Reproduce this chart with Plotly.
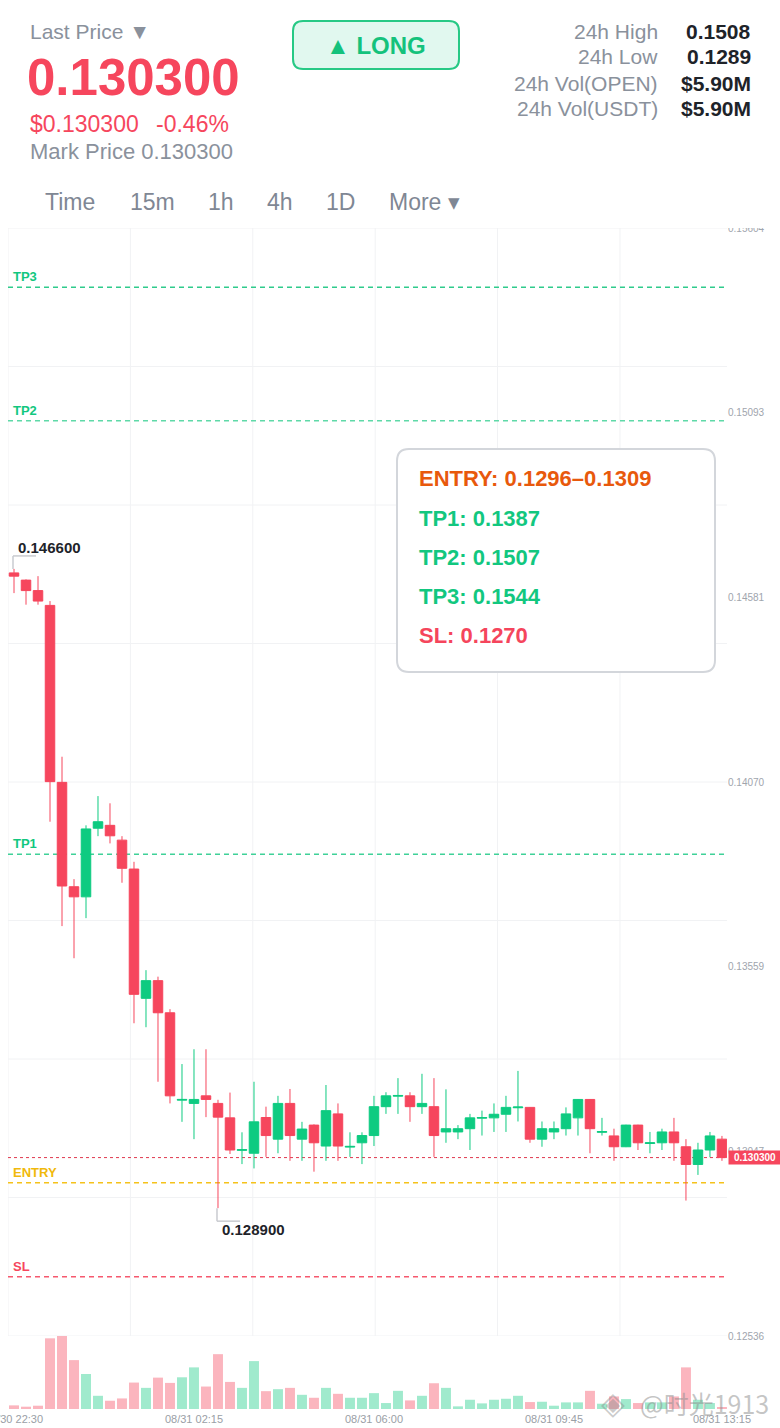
import pandas as pd
import plotly.graph_objects as go

OFF = 0
W, H = 780, 1428
FONT = "Liberation Sans, Arial, sans-serif"

# 15m candles, 08/30 22:30 -> 08/31 13:15
START = "2025-08-30 22:30"
N_CANDLES = 60

OPEN = [0.14649, 0.14629, 0.14600, 0.14559, 0.14069, 0.13780, 0.13752, 0.13942, 0.13950, 0.13909,
        0.13829, 0.13471, 0.13520, 0.13431, 0.13189, 0.13180, 0.13201, 0.13180, 0.13140, 0.13050,
        0.13042, 0.13141, 0.13081, 0.13180, 0.13081, 0.13120, 0.13062, 0.13151, 0.13059, 0.13071,
        0.13091, 0.13171, 0.13200, 0.13201, 0.13171, 0.13171, 0.13101, 0.13101, 0.13110, 0.13139,
        0.13140, 0.13150, 0.13168, 0.13169, 0.13081, 0.13101, 0.13110, 0.13140, 0.13191, 0.13100,
        0.13090, 0.13060, 0.13120, 0.13069, 0.13071, 0.13101, 0.13060, 0.13011, 0.13051, 0.13081]
HIGH = [0.14660, 0.14631, 0.14640, 0.14571, 0.14140, 0.13801, 0.13950, 0.14031, 0.14011, 0.13920,
        0.13849, 0.13549, 0.13531, 0.13441, 0.13289, 0.13330, 0.13330, 0.13190, 0.13210, 0.13100,
        0.13240, 0.13171, 0.13201, 0.13220, 0.13129, 0.13122, 0.13231, 0.13180, 0.13100, 0.13100,
        0.13201, 0.13211, 0.13250, 0.13211, 0.13262, 0.13250, 0.13219, 0.13120, 0.13151, 0.13160,
        0.13180, 0.13201, 0.13270, 0.13170, 0.13130, 0.13130, 0.13169, 0.13192, 0.13192, 0.13140,
        0.13110, 0.13121, 0.13121, 0.13101, 0.13110, 0.13140, 0.13081, 0.13071, 0.13101, 0.13090]
LOW = [0.14593, 0.14561, 0.14561, 0.13960, 0.13671, 0.13582, 0.13693, 0.13920, 0.13900, 0.13791,
       0.13402, 0.13391, 0.13240, 0.13180, 0.13129, 0.13081, 0.13142, 0.12890, 0.13040, 0.13012,
       0.13000, 0.13032, 0.13042, 0.13021, 0.13021, 0.12991, 0.13021, 0.13021, 0.13032, 0.13012,
       0.13062, 0.13151, 0.13151, 0.13129, 0.13151, 0.13032, 0.13071, 0.13081, 0.13051, 0.13091,
       0.13101, 0.13101, 0.13130, 0.13071, 0.13060, 0.13081, 0.13091, 0.13091, 0.13042, 0.13091,
       0.13021, 0.13059, 0.13051, 0.13042, 0.13051, 0.13021, 0.12911, 0.12982, 0.13031, 0.13021]
CLOSE = [0.14640, 0.14600, 0.14571, 0.14071, 0.13782, 0.13752, 0.13940, 0.13960, 0.13921, 0.13831,
         0.13482, 0.13520, 0.13431, 0.13201, 0.13191, 0.13191, 0.13191, 0.13142, 0.13051, 0.13052,
         0.13129, 0.13091, 0.13180, 0.13091, 0.13109, 0.13071, 0.13160, 0.13062, 0.13061, 0.13091,
         0.13171, 0.13201, 0.13202, 0.13171, 0.13180, 0.13091, 0.13110, 0.13110, 0.13140, 0.13141,
         0.13150, 0.13169, 0.13170, 0.13081, 0.13110, 0.13110, 0.13151, 0.13191, 0.13110, 0.13102,
         0.13060, 0.13120, 0.13071, 0.13071, 0.13101, 0.13071, 0.13011, 0.13051, 0.13090, 0.13030]
VOLUME_K = [11, 7, 10, 214, 221, 148, 106, 40, 25, 32, 80, 64, 95, 79, 96, 126, 68, 166, 82, 64,
            145, 54, 60, 64, 43, 34, 64, 46, 34, 34, 48, 18, 55, 26, 40, 78, 64, 8, 28, 17,
            28, 31, 40, 21, 22, 10, 20, 20, 55, 16, 38, 30, 18, 20, 20, 38, 126, 28, 18, 6]

TIME_TICKS = ["2025-08-30 22:30", "2025-08-31 02:15", "2025-08-31 06:00",
              "2025-08-31 09:45", "2025-08-31 13:15"]
PRICE_TICKS = [0.12536, 0.13047, 0.13559, 0.14070, 0.14581, 0.15093, 0.15604]

LEVELS = [("TP3", 0.1544), ("TP2", 0.1507), ("TP1", 0.1387), ("ENTRY", 0.1296), ("SL", 0.1270)]
LAST_PRICE = 0.1303
HIGH_MARK = (0, 0.1466)
LOW_MARK = (17, 0.1289)

STATS = [("24h High", "0.1508"), ("24h Low", "0.1289"),
         ("24h Vol(OPEN)", "$5.90M"), ("24h Vol(USDT)", "$5.90M")]
TABS = ["Time", "15m", "1h", "4h", "1D", "More ▾"]
PLAN = [("ENTRY: 0.1296–0.1309", "#e8590c"), ("TP1: 0.1387", "#12c77f"),
        ("TP2: 0.1507", "#12c77f"), ("TP3: 0.1544", "#12c77f"), ("SL: 0.1270", "#f5455c")]

UP, DOWN = "#0ecb81", "#f6465d"
UP_VOL, DOWN_VOL = "#a0eacd", "#fbb5be"
LEVEL_COLORS = {"TP3": "#2fcb8c", "TP2": "#5fd9a8", "TP1": "#3fd198", "ENTRY": "#f5c21b", "SL": "#f6596e"}
LABEL_COLORS = {"TP3": "#12c77f", "TP2": "#12c77f", "TP1": "#12c77f", "ENTRY": "#f0b90b", "SL": "#f6465d"}
GRID = "#f1f2f4"

times = pd.date_range(START, periods=N_CANDLES, freq="15min")
step = pd.Timedelta(minutes=15)
x_left = times[0] - step * 0.5
x_right = times[-1] + step * 0.42
lo, hi = PRICE_TICKS[0], PRICE_TICKS[-1]


def px(x):
    # window pixel -> paper fraction
    return (x - OFF) / W


def py(y):
    return 1 - (y - OFF) / H


def rounded_box(x0, y0, x1, y1, r):
    rx, ry = r / W, r / H
    X0, X1, Y0, Y1 = px(x0), px(x1), py(y0), py(y1)
    return (f"M{X0 + rx},{Y0} L{X1 - rx},{Y0} Q{X1},{Y0} {X1},{Y0 - ry} "
            f"L{X1},{Y1 + ry} Q{X1},{Y1} {X1 - rx},{Y1} L{X0 + rx},{Y1} "
            f"Q{X0},{Y1} {X0},{Y1 + ry} L{X0},{Y0 - ry} Q{X0},{Y0} {X0 + rx},{Y0} Z")


def text(x, y, s, size, color, anchor="left", bold=False, family=FONT):
    return dict(x=px(x), y=py(y), xref="paper", yref="paper", xanchor=anchor, yanchor="middle",
                text=f"<b>{s}</b>" if bold else s, showarrow=False,
                font=dict(size=size, color=color, family=family))


fig = go.Figure()
fig.add_trace(go.Candlestick(
    x=times, open=OPEN, high=HIGH, low=LOW, close=CLOSE, whiskerwidth=0,
    increasing=dict(line=dict(color=UP, width=1), fillcolor=UP),
    decreasing=dict(line=dict(color=DOWN, width=1), fillcolor=DOWN),
    hoverinfo="skip", showlegend=False))
fig.add_trace(go.Bar(
    x=times, y=VOLUME_K, xaxis="x2", yaxis="y2", hoverinfo="skip", showlegend=False,
    marker=dict(color=[UP_VOL if c >= o else DOWN_VOL for o, c in zip(OPEN, CLOSE)], line_width=0)))

shapes = []
# grid
for k in range(9):
    lv = lo + (hi - lo) * k / 8
    shapes.append(dict(type="line", xref="x domain", yref="y", x0=0, x1=1, y0=lv, y1=lv,
                       line=dict(color=GRID, width=1), layer="below"))
for k in range(6):
    gx = x_left + pd.Timedelta(minutes=153) * k
    shapes.append(dict(type="line", xref="x", yref="y domain", x0=gx, x1=gx, y0=0, y1=1,
                       line=dict(color=GRID, width=1), layer="below"))
# trade levels
for name, lv in LEVELS:
    shapes.append(dict(type="line", xref="x domain", yref="y", x0=0, x1=1, y0=lv, y1=lv,
                       line=dict(color=LEVEL_COLORS[name], width=1.5, dash="5px,4px"), layer="below"))
shapes.append(dict(type="line", xref="x domain", yref="y", x0=0, x1=1, y0=LAST_PRICE, y1=LAST_PRICE,
                   line=dict(color="#e0394f", width=1, dash="3px,3px"), layer="below"))
# leader brackets for high / low marks
for (idx, val), sign in ((HIGH_MARK, 1), (LOW_MARK, -1)):
    t = times[idx]
    shapes.append(dict(type="line", xref="x", yref="y", xsizemode="pixel", ysizemode="pixel",
                       xanchor=t, yanchor=val, x0=-1, x1=-1, y0=0, y1=13 * sign,
                       line=dict(color="#c9cbd0", width=1.5)))
    shapes.append(dict(type="line", xref="x", yref="y", xsizemode="pixel", ysizemode="pixel",
                       xanchor=t, yanchor=val, x0=-1, x1=22, y0=13 * sign, y1=13 * sign,
                       line=dict(color="#c9cbd0", width=1.5)))
# mask above plot for clipped top tick
shapes.append(dict(type="rect", xref="paper", yref="paper", x0=px(728), x1=1, y0=py(228), y1=py(205),
                   fillcolor="white", line_width=0, layer="above"))
# LONG button and plan box
shapes.append(dict(type="path", xref="paper", yref="paper", path=rounded_box(293, 21, 459, 69, 10),
                   fillcolor="#e1f8ef", line=dict(color="#27c985", width=2), layer="above"))
shapes.append(dict(type="path", xref="paper", yref="paper", path=rounded_box(397, 449, 715, 672, 12),
                   fillcolor="white", line=dict(color="#d3d6db", width=2), layer="above"))

ann = []
ann.append(text(28, 31, "Last Price ▼", 21, "#8a919c"))
ann.append(text(25, 77, "0.130300", 51, DOWN, bold=True))
ann.append(text(28, 124, "$0.130300", 23, DOWN))
ann.append(text(154, 124, "-0.46%", 23, DOWN))
ann.append(text(28, 152, "Mark Price 0.130300", 22, "#8a919c"))
ann.append(text(376, 45, "▲ LONG", 24, "#14c27c", anchor="center", bold=True))
for i, (lab, val) in enumerate(STATS):
    ann.append(text(660, 31 + 26 * i, lab, 21, "#8a919c", anchor="right"))
    ann.append(text(753, 31 + 26 * i, val, 21, "#1e2329", anchor="right", bold=True))
for lab, x in zip(TABS, [43, 128, 206, 265, 324, 387]):
    ann.append(text(x, 202, lab, 23, "#7f8794"))
for i, (s, c) in enumerate(PLAN):
    ann.append(text(417, 479 + 39.2 * i, s, 22, c, bold=True))
for name, lv in LEVELS:
    ann.append(dict(x=px(11), y=lv, xref="paper", yref="y", xanchor="left", yanchor="bottom",
                    yshift=1, text=f"<b>{name}</b>", showarrow=False,
                    font=dict(size=13, color=LABEL_COLORS[name], family=FONT)))
for (idx, val), sign in ((HIGH_MARK, 1), (LOW_MARK, -1)):
    ann.append(dict(x=times[idx], y=val, xref="x", yref="y", xanchor="left", yanchor="middle",
                    xshift=2, yshift=21 * sign, text=f"<b>{val:.6f}</b>", showarrow=False,
                    font=dict(size=15, color="#1e2329", family=FONT)))
ann.append(dict(x=px(728), y=LAST_PRICE, xref="paper", yref="y", xanchor="left", yanchor="middle",
                text=f"<b>{LAST_PRICE:.6f}</b>", showarrow=False, bgcolor=DOWN, borderpad=1,
                width=50, height=11, font=dict(size=10, color="white", family=FONT)))
ann.append(text(599, 1403, "◈", 31, "rgba(140,140,140,0.45)", family="DejaVu Sans"))
ann.append(text(638, 1403, "@时光1913", 25, "rgba(140,140,140,0.5)", family="Noto Sans CJK SC"))

fig.update_layout(
    width=W, height=H, margin=dict(l=0, r=0, t=0, b=0, autoexpand=False),
    paper_bgcolor="white", plot_bgcolor="white", boxgap=0.12, boxgroupgap=0.1, bargap=0.17,
    font=dict(family=FONT),
    xaxis=dict(domain=[px(8), px(727)], range=[x_left, x_right], anchor="y", type="date",
               automargin=False, showticklabels=False, showgrid=False, zeroline=False,
               rangeslider=dict(visible=False)),
    xaxis2=dict(domain=[px(8), px(727)], matches="x", anchor="y2", type="date", automargin=False,
                tickvals=TIME_TICKS, tickformat="%m/%d %H:%M", ticks="", showgrid=False,
                zeroline=False, ticklabeloverflow="allow", ticklabelstandoff=2,
                tickfont=dict(size=11, color="#9aa0a6")),
    yaxis=dict(domain=[py(1336), py(228)], range=[lo, hi], side="right", anchor="x",
               automargin=False, tickvals=PRICE_TICKS, ticktext=[f"{v:.5f}" for v in PRICE_TICKS],
               ticks="", showgrid=False, zeroline=False, tickfont=dict(size=10, color="#a0a5ad")),
    yaxis2=dict(domain=[py(1409), py(1336)], range=[0, max(VOLUME_K)], anchor="x2",
                automargin=False, showticklabels=False, showgrid=False, zeroline=False),
    shapes=shapes, annotations=ann,
)

# drop the default 8px page margin so the figure fills the window
fig.write_html("out.html", config={"displayModeBar": False},
               post_script="document.body.style.margin='0';document.body.style.overflow='hidden';")
